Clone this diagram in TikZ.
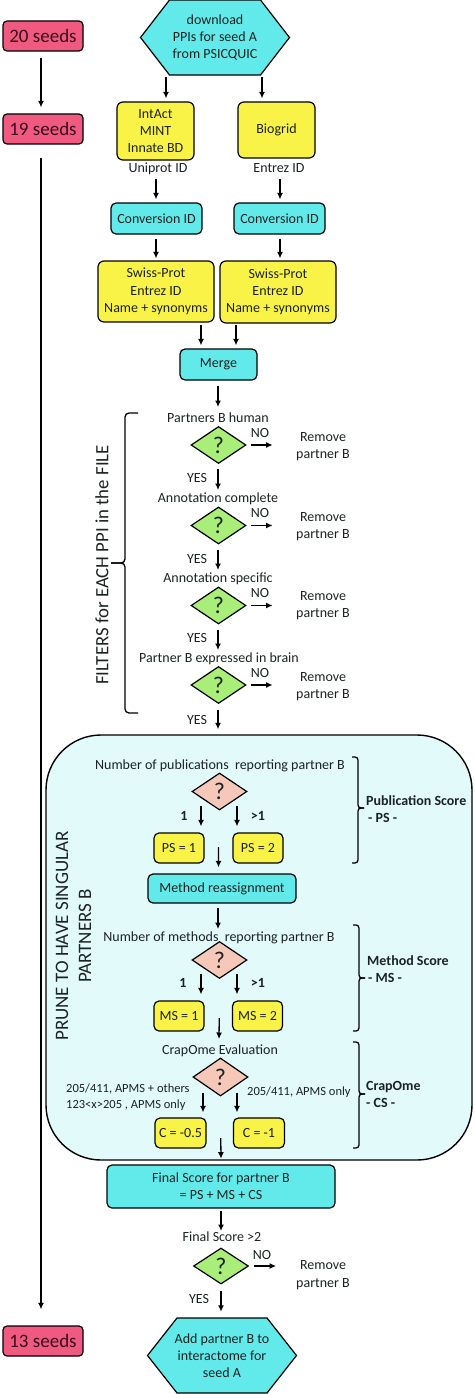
\documentclass[tikz,border=0pt]{standalone}
\usepackage{fontspec}
\setmainfont{Carlito}
\usetikzlibrary{shapes.geometric,arrows.meta,calc}
\definecolor{cyanc}{RGB}{98,234,234}
\definecolor{lightc}{RGB}{226,250,250}
\definecolor{yellowc}{RGB}{248,243,70}
\definecolor{pinkc}{RGB}{240,90,128}
\definecolor{greenc}{RGB}{170,238,122}
\definecolor{salmonc}{RGB}{246,200,186}
\definecolor{txtc}{RGB}{28,34,34}
\definecolor{pinktxt}{RGB}{55,10,25}
\newcommand\myfN{\fontsize{14}{17.3}\selectfont}
\newcommand\myfS{\fontsize{12.5}{16}\selectfont}
\newcommand\myfB{\fontsize{19}{23}\selectfont}
\newcommand\myfF{\fontsize{18.8}{23}\selectfont}
\newcommand\myfQ{\fontsize{24}{26}\selectfont}
\begin{document}
\begin{tikzpicture}[x=1pt,y=-1pt,
  arr/.style={-{Latex[length=6.5pt,width=6pt]},line width=1.3pt,draw=black},
  brk/.style={line width=1.3pt,rounded corners=4pt},
  pinkbox/.style={draw=black,line width=1.2pt,fill=pinkc,rounded corners=4pt,minimum width=80pt,minimum height=30pt,inner sep=0pt,font=\myfB,text=pinktxt},
  cbox/.style={draw=black,line width=1.2pt,fill=cyanc,rounded corners=5pt,inner sep=0pt,align=center,font=\myfN,text=txtc},
  ybox/.style={draw=black,line width=1.2pt,fill=yellowc,rounded corners=6pt,inner sep=0pt,align=center,font=\myfN,text=txtc},
  hexsty/.style={draw=black,line width=1.2pt,fill=cyanc},
  hexnode/.style={minimum width=149pt,minimum height=75pt,inner sep=0pt,align=center,font=\myfN,text=txtc},
  dia/.style={diamond,draw=black,line width=1.2pt,inner sep=0pt,minimum width=55pt,minimum height=37pt,font=\myfQ,text=txtc},
  gdia/.style={dia,fill=greenc},
  sdia/.style={dia,fill=salmonc},
  lbl/.style={inner sep=0pt,font=\myfN,text=txtc,text height=9pt,text depth=0pt},
  slbl/.style={inner sep=0pt,font=\myfS,text=txtc,text height=8pt,text depth=0pt},
  blbl/.style={lbl,font=\myfN\bfseries},
  rm/.style={inner sep=0pt,font=\myfN,align=center,text=txtc}
]
\useasboundingbox (0,0) rectangle (474,1394);

% seeds column
\node[pinkbox] (seedsA) at (43,36) {20 seeds};
\node[pinkbox] (seedsB) at (43,129) {19 seeds};
\node[pinkbox] (seedsC) at (43,1341) {13 seeds};
\draw[arr] ($(seedsA.south)+(-2,6)$) -- ($(seedsB.north)+(-2,-6)$);
\draw[arr] ($(seedsB.south)+(-2,13)$) -- ($(seedsC.north)+(-2,-16)$);

% top hexagon
\coordinate (hA) at (215,37.5);
\draw[hexsty] ($(hA)+(-74.5,0)$) -- ++(29,-37.5) -- ++(91,0) -- ++(29,37.5) -- ++(-29,37.5) -- ++(-91,0) -- cycle;
\node[hexnode] (hexA) at (hA) {download\\PPIs for seed A\\from PSICQUIC};

% databases
\node[ybox,minimum width=77pt,minimum height=58pt] (intact) at (155.5,131) {IntAct\\MINT\\Innate BD};
\node[ybox,minimum width=77pt,minimum height=56pt] (biogrid) at (276.5,130) {Biogrid};
\draw[arr] ($(hexA.south)+(-49,2)$) -- ($(intact.north)+(10.5,-3)$);
\draw[arr] ($(hexA.south)+(47,2)$) -- ($(biogrid.north)+(-14.5,-3)$);
\node[lbl] (uniprot) at (158,168) {Uniprot ID};
\node[lbl] (entrez) at (279,168) {Entrez ID};

\node[cbox,minimum width=91pt,minimum height=31pt] (convA) at (156.5,218.5) {Conversion ID};
\node[cbox,minimum width=91pt,minimum height=31pt] (convB) at (279.5,218.5) {Conversion ID};
\draw[arr] ($(uniprot.center)+(-2,11)$) -- ($(convA.north)+(-0.5,-3)$);
\draw[arr] ($(entrez.center)+(1,11)$) -- ($(convB.north)+(0.5,-3)$);

\node[ybox,minimum width=116pt,minimum height=61pt] (swissA) at (156,291.5) {Swiss-Prot\\Entrez ID\\Name + synonyms};
\node[ybox,minimum width=116pt,minimum height=62pt] (swissB) at (278,292) {Swiss-Prot\\Entrez ID\\Name + synonyms};
\draw[arr] ($(convA.south)+(-0.5,4)$) -- ($(swissA.north)+(0,-2)$);
\draw[arr] ($(convB.south)+(0.5,4)$) -- ($(swissB.north)+(2,-2)$);

\node[cbox,minimum width=77pt,minimum height=31pt] (merge) at (218.5,364.5) {Merge};
\draw[arr] ($(swissA.south)+(45,2)$) -- ($(merge.north)+(-17.5,-3)$);
\draw[arr] ($(swissB.south)+(-42,1)$) -- ($(merge.north)+(17.5,-3)$);

% filters
\node[lbl] (l1) at (218,418) {Partners B human};
\node[gdia] (q1) at (218.5,445) {?};
\node[lbl] (no1) at (260,433) {NO};
\node[rm] (rm1) at (323,446.5) {Remove\\partner B};
\node[lbl] (yes1) at (197,478) {YES};
\draw[arr] ($(merge.south)+(-0.5,5)$) -- ($(l1.center)+(0,-11)$);
\draw[arr] ($(q1.east)+(4,0)$) -- ($(q1.east)+(26,0)$);

\node[lbl] (l2) at (218,498) {Annotation complete};
\node[gdia] (q2) at (218.5,525.5) {?};
\node[lbl] (no2) at (260,513) {NO};
\node[rm] (rm2) at (323,526.5) {Remove\\partner B};
\node[lbl] (yes2) at (197,559) {YES};
\draw[arr] ($(q1.south)+(-0.5,5)$) -- ($(l2.center)+(0,-8)$);
\draw[arr] ($(q2.east)+(4,0)$) -- ($(q2.east)+(26,0)$);

\node[lbl] (l3) at (218,578) {Annotation specific};
\node[gdia] (q3) at (218.5,605.5) {?};
\node[lbl] (no3) at (260,593) {NO};
\node[rm] (rm3) at (323,605.5) {Remove\\partner B};
\node[lbl] (yes3) at (197,638) {YES};
\draw[arr] ($(q2.south)+(-0.5,5)$) -- ($(l3.center)+(0,-8)$);
\draw[arr] ($(q3.east)+(4,0)$) -- ($(q3.east)+(26,0)$);

\node[lbl] (l4) at (219,658) {Partner B expressed in brain};
\node[gdia] (q4) at (218.5,685) {?};
\node[lbl] (no4) at (260,673) {NO};
\node[rm] (rm4) at (323,686.5) {Remove\\partner B};
\node[lbl] (yes4) at (197,720) {YES};
\draw[arr] ($(q3.south)+(-0.5,5)$) -- ($(l4.center)+(-1,-8)$);
\draw[arr] ($(q4.east)+(4,0)$) -- ($(q4.east)+(26,0)$);

\draw[brk] (138,413) -- (125,413) -- (125,563) -- (111,563);
\draw[brk] (111,563) -- (125,563) -- (125,713) -- (138,713);
\node[rotate=90,inner sep=0pt,font=\myfF,text=txtc] (filt) at (102,565) {FILTERS for EACH PPI in the FILE};

% prune box
\node[draw=black,line width=1.4pt,fill=lightc,rounded corners=55pt,minimum width=426pt,minimum height=425pt,inner sep=0pt] (prune) at (259,947.5) {};
\draw[arr] ($(q4.south)+(-0.5,5.5)$) -- ($(q4.south |- prune.north)+(-0.5,-5)$);
\node[rotate=90,inner sep=0pt,align=center,font=\myfB,text=txtc] (prunetxt) at (73.5,936) {PRUNE TO HAVE SINGULAR\\PARTNERS B};

% publication score
\node[lbl] (lpub) at (220,765) {Number of publications \ reporting partner B};
\node[sdia] (dPub) at (219.5,791.5) {?};
\node[blbl] (p1) at (184,816) {1};
\node[blbl] (pg1) at (258,816) {>1};
\node[ybox,minimum width=50pt,minimum height=30pt,rounded corners=5pt] (ps1) at (179,848) {PS = 1};
\node[ybox,minimum width=50pt,minimum height=30pt,rounded corners=5pt] (ps2) at (258,848) {PS = 2};
\draw[arr] ($(dPub.south)+(-18.5,-5)$) -- ($(ps1.north)+(22,-6)$);
\draw[arr] ($(dPub.south)+(17.5,-5)$) -- ($(ps2.north)+(-21,-6)$);
\node[cbox,minimum width=148pt,minimum height=29pt] (mr) at (222,888.5) {Method reassignment};
\draw[arr] ($(ps1.east)!0.5!(ps2.west)+(0,-1)$) -- ($(mr.north)+(-3.5,-6)$);
\draw[brk,rounded corners=3pt] (352,757) -- (358,757) -- (358,808) -- (364,808);
\draw[brk,rounded corners=3pt] (364,808) -- (358,808) -- (358,863) -- (352,863);
\node[blbl,anchor=west] (pst) at (366,801) {Publication Score};
\node[blbl,anchor=west] (psa) at (368,818) {- PS -};

% method score
\node[lbl] (lmeth) at (219,937) {Number of methods \ reporting partner B};
\draw[arr] ($(mr.south)+(-4,4)$) -- ($(lmeth.center)+(-1,-8)$);
\node[sdia] (dMeth) at (219.5,960) {?};
\node[blbl] (m1) at (183,983) {1};
\node[blbl] (mg1) at (258,983) {>1};
\node[ybox,minimum width=50pt,minimum height=30pt,rounded corners=5pt] (ms1) at (179,1016) {MS = 1};
\node[ybox,minimum width=50pt,minimum height=30pt,rounded corners=5pt] (ms2) at (257.5,1016) {MS = 2};
\draw[arr] ($(dMeth.south)+(-18.5,-5.5)$) -- ($(ms1.north)+(22,-6)$);
\draw[arr] ($(dMeth.south)+(17.5,-5.5)$) -- ($(ms2.north)+(-20.5,-6)$);
\draw[brk,rounded corners=3pt] (353,925) -- (359,925) -- (359,978) -- (365,978);
\draw[brk,rounded corners=3pt] (365,978) -- (359,978) -- (359,1031) -- (353,1031);
\node[blbl,anchor=west] (mst) at (367,961) {Method Score};
\node[blbl,anchor=west] (msa) at (368,978) {- MS -};

% crapome
\node[lbl] (lcrap) at (220,1050) {CrapOme Evaluation};
\draw[arr] ($(ms1.east)!0.5!(ms2.west)+(1,2)$) -- ($(lcrap.center)+(-1,-11)$);
\node[sdia,minimum height=38pt] (dCrap) at (220.5,1077) {?};
\node[anchor=west,inner sep=0pt,align=left,font=\myfS,text=txtc] (crapL) at (66,1097) {205/411, APMS + others\\123<x>205 , APMS only};
\node[slbl,anchor=west] (crapR) at (247,1091) {205/411, APMS only};
\node[ybox,minimum width=51pt,minimum height=30pt,rounded corners=5pt] (c1) at (180.5,1133) {C = -0.5};
\node[ybox,minimum width=51pt,minimum height=30pt,rounded corners=5pt] (c2) at (259,1133) {C = -1};
\draw[arr] ($(dCrap.south)+(-17.5,-4)$) -- ($(c1.north)+(22.5,-5)$);
\draw[arr] ($(dCrap.south)+(16.5,-4)$) -- ($(c2.north)+(-22,-5)$);
\draw[arr] ($(c1.east)!0.5!(c2.west)+(1,5)$) -- ($(prune.south)+(-38,-2)$);
\draw[brk,rounded corners=3pt] (353,1042) -- (359,1042) -- (359,1094) -- (365,1094);
\draw[brk,rounded corners=3pt] (365,1094) -- (359,1094) -- (359,1148) -- (353,1148);
\node[blbl,anchor=west] (cst) at (366,1086) {CrapOme};
\node[blbl,anchor=west] (csa) at (366,1103) {- CS -};

% final
\node[cbox,minimum width=228pt,minimum height=43pt] (final) at (221,1186.5) {Final Score for partner B\\= PS + MS + CS};
\node[lbl] (lfin) at (222,1237) {Final Score >2};
\draw[arr] ($(final.south)+(0,2)$) -- ($(lfin.center)+(-1,-6)$);
\node[gdia,minimum height=36pt] (dFin) at (221,1266) {?};
\node[lbl] (no5) at (262,1255) {NO};
\node[rm] (rm5) at (323,1275) {Remove\\partner B};
\draw[arr] ($(dFin.east)+(5,0)$) -- ($(dFin.east)+(27,0)$);
\node[lbl] (yes5) at (199,1299) {YES};

% bottom hexagon
\coordinate (hB) at (222,1355.5);
\draw[hexsty] ($(hB)+(-74.5,0)$) -- ++(29.5,-37.5) -- ++(90,0) -- ++(29.5,37.5) -- ++(-29.5,37.5) -- ++(-90,0) -- cycle;
\node[hexnode] (hexB) at (hB) {Add partner B to\\interactome for\\seed A};
\draw[arr] ($(dFin.south)+(0,6)$) -- ($(hexB.north)+(-1,-6)$);
\end{tikzpicture}
\end{document}
